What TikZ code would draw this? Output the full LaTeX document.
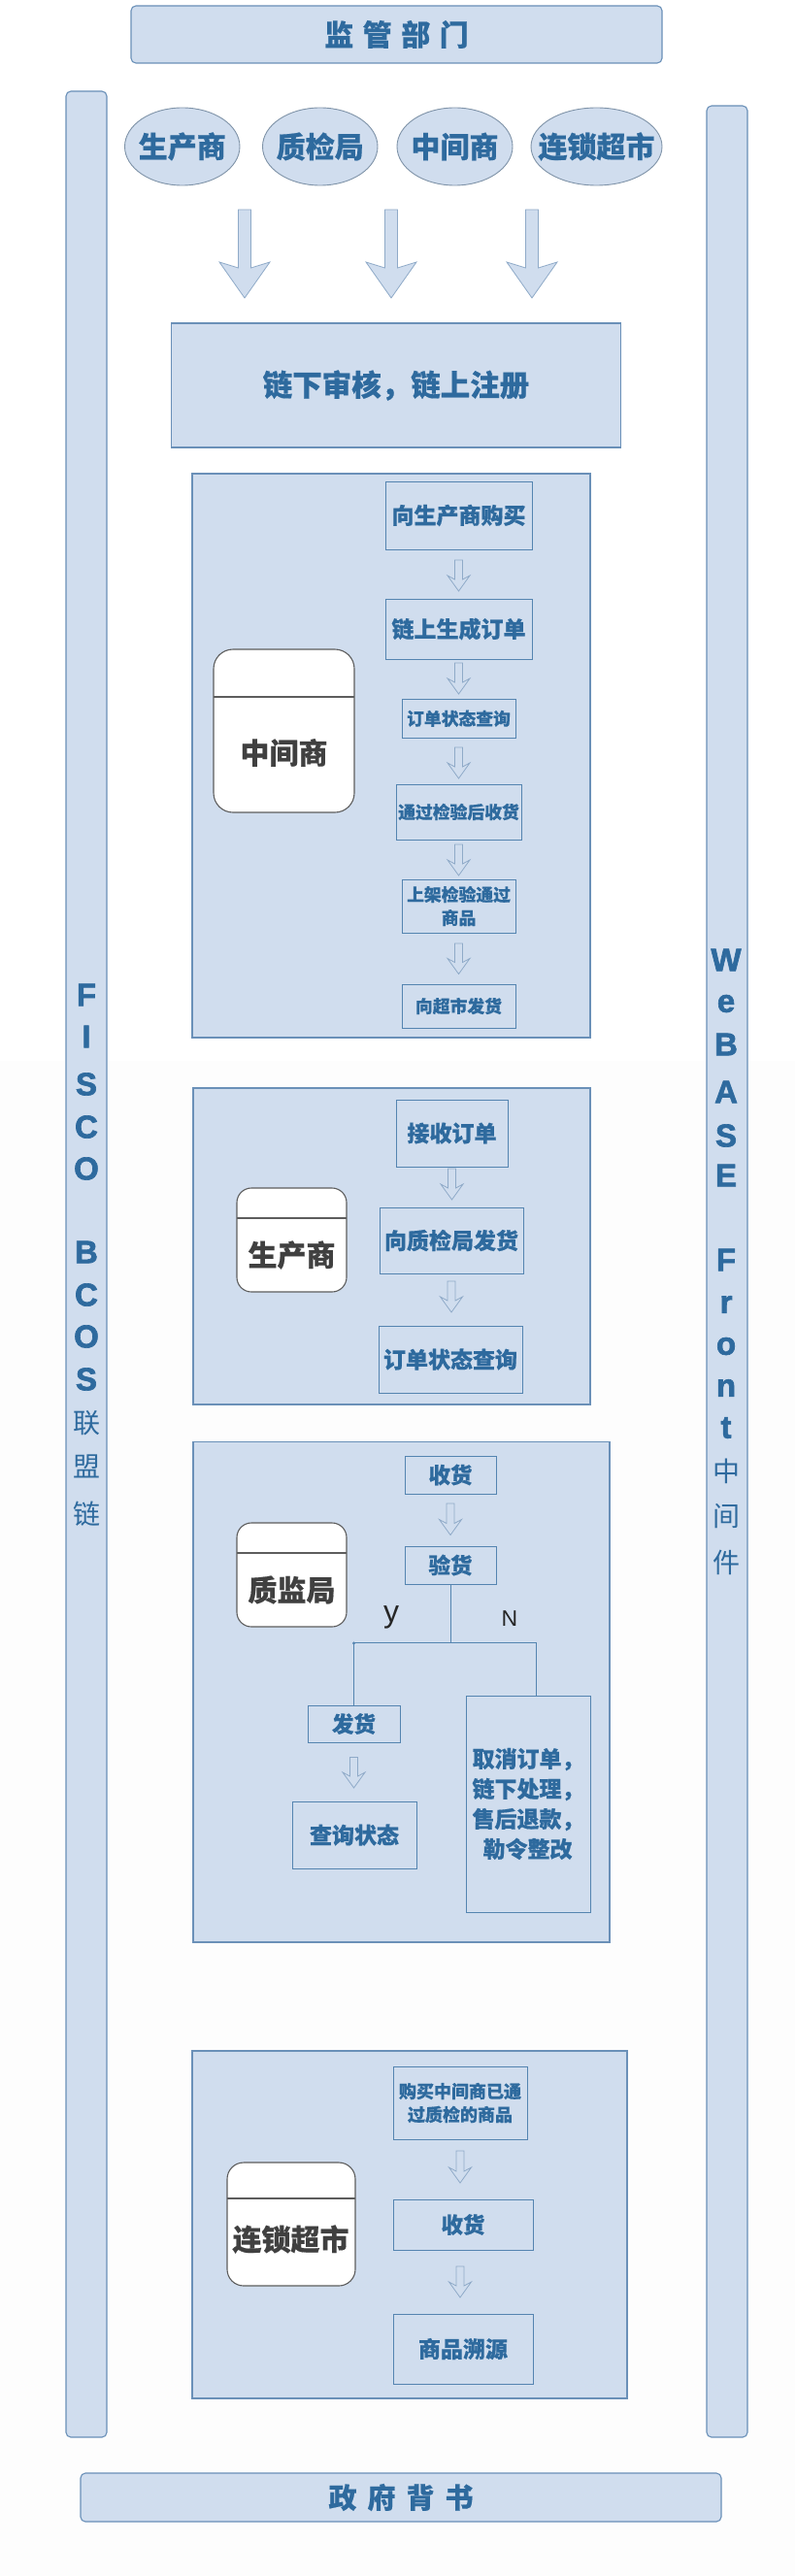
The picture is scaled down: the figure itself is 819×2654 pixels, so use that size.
\documentclass[tikz,border=0pt]{standalone}
\usepackage{fontspec}
\setmainfont{Liberation Sans}
\newfontfamily\cjk{Noto Sans CJK SC}[BoldFeatures={FakeBold=0.5}]
\newfontfamily\heavy{Liberation Sans}[BoldFeatures={FakeBold=2}]
\usetikzlibrary{calc,shapes.geometric}
\definecolor{panelfill}{HTML}{D0DDEE}
\definecolor{panelline}{HTML}{6A90B8}
\definecolor{boxline}{HTML}{5484B0}
\definecolor{inktext}{HTML}{2E6A9E}
\definecolor{darktext}{HTML}{404040}
\definecolor{arrowline}{HTML}{8FAAC8}
\definecolor{ovalline}{HTML}{7F93A8}
\definecolor{paperoff}{HTML}{FDFDFD}
\tikzset{
  panelbox/.style={draw=panelline,line width=1.1pt,fill=panelfill,inner sep=0pt,outer sep=0pt},
  roundbox/.style={panelbox,rounded corners=5pt},
  flowstep/.style={draw=boxline,line width=1pt,fill=panelfill,inner sep=0pt,outer sep=0pt,text=inktext,align=center},
  ovalbox/.style={ellipse,draw=ovalline,line width=.9pt,fill=panelfill,inner sep=0pt,outer sep=0pt},
  ovaltext/.style={text=inktext,inner sep=0pt,font=\cjk\bfseries\fontsize{30}{36}\selectfont},
  actorshape/.style={draw=darktext!85,line width=1.1pt,fill=white,inner sep=0pt,outer sep=0pt},
  actorlabel/.style={text=darktext,inner sep=0pt,font=\cjk\bfseries\fontsize{30}{36}\selectfont},
  blockarrow/.style={draw=arrowline,line width=.8pt,fill=panelfill,line join=miter},
  treeline/.style={draw=boxline,line width=1pt},
  barletter/.style={text=inktext,inner sep=0pt,font=\heavy\bfseries\fontsize{33}{36}\selectfont},
  barcjk/.style={text=inktext,inner sep=0pt,font=\cjk\fontsize{28}{32}\selectfont},
}
% #1 style  #2 name  #3-#6 x1,y1,x2,y2  #7 text
\newcommand\boxat[7]{\node[#1,minimum width={(#5-#3)*1pt},minimum height={(#6-#4)*1pt}] (#2) at ({(#3+#5)/2},{(#4+#6)/2}) {#7};}
% #1 font size  rest as above
\newcommand\flowbox[7][23]{\boxat{flowstep,font=\cjk\bfseries\fontsize{#1}{24}\selectfont}{#2}{#3}{#4}{#5}{#6}{#7}}
% #1 from  #2 to  #3 half shaft  #4 half wing  #5 wing depth  #6 notch depth
\newcommand\blockdown[6]{\draw[blockarrow] let \p1=(#1),\p2=(#2) in
  ({\x1-#3pt},\y1) -- ({\x1+#3pt},\y1) -- ({\x1+#3pt},{\y2+#6pt}) -- ({\x1+#4pt},{\y2+#5pt}) -- (\x1,\y2)
  -- ({\x1-#4pt},{\y2+#5pt}) -- ({\x1-#3pt},{\y2+#6pt}) -- cycle;}
\newcommand\smalldown[2]{\blockdown{#1}{#2}{4}{11.5}{16}{12}}
% #1 name #2-#5 box #6 radius #7 divider y
\newcommand\actorbox[7]{\boxat{actorshape,rounded corners=#6pt}{#1}{#2}{#3}{#4}{#5}{}
  \coordinate (#1-l) at (#2,#7); \coordinate (#1-r) at (#4,#7);
  \draw[actorshape] (#1-l) -- (#1-r);}
\begin{document}
\begin{tikzpicture}[x=1pt,y=-1pt]
\useasboundingbox (0,0) rectangle (819,2654);
\fill[white] (0,0) rectangle (819,2654);
\fill[paperoff] (0,1093) rectangle (819,2654);
% side bars
\boxat{roundbox}{leftbar}{68}{94}{110}{2511}{}
\boxat{roundbox}{rightbar}{728}{109}{770}{2511}{}
\foreach \t/\v [count=\i] in {F/1025,I/1068,S/1117,C/1161,O/1204,B/1290,C/1334,O/1377,S/1421}
  \node[barletter] (fl\i) at (89,\v) {\t};
\foreach \t/\v [count=\i] in {联/1466,盟/1511,链/1560}
  \node[barcjk] (fc\i) at (89,\v) {\t};
\foreach \t/\v [count=\i] in {W/989,e/1034,B/1076,A/1125,S/1170,E/1211,F/1298,r/1344,o/1387,n/1430,t/1471}
  \node[barletter] (wl\i) at (748,\v) {\t};
\foreach \t/\v [count=\i] in {中/1516,间/1562,件/1610}
  \node[barcjk] (wc\i) at (748,\v) {\t};
% top
\boxat{roundbox,text=inktext,font=\cjk\bfseries\fontsize{30}{36}\selectfont}{top}{135}{6}{682}{65}{监\hspace{9.5pt}管\hspace{9.5pt}部\hspace{9.5pt}门}
\boxat{ovalbox}{o1}{128.5}{111}{247}{191}{}
\boxat{ovalbox}{o2}{270.5}{111}{389}{191}{}
\boxat{ovalbox}{o3}{409}{111}{528}{191}{}
\boxat{ovalbox}{o4}{547}{111}{682}{191}{}
\node[ovaltext] (o1t) at (o1) {生产商};
\node[ovaltext] (o2t) at (o2) {质检局};
\node[ovaltext] (o3t) at (o3) {中间商};
\node[ovaltext] (o4t) at (o4) {连锁超市};
\boxat{panelbox,text=inktext,font=\cjk\bfseries\fontsize{30.5}{36}\selectfont}{reg}{176.5}{333}{639.5}{461}{链下审核，链上注册}
\coordinate (a1) at (252,216); \coordinate (a2) at (403,216); \coordinate (a3) at (548,216);
\coordinate (t1) at (252,307); \coordinate (t2) at (403,307); \coordinate (t3) at (548,307);
\blockdown{a1}{t1}{6.5}{26}{37}{31}
\blockdown{a2}{t2}{6.5}{26}{37}{31}
\blockdown{a3}{t3}{6.5}{26}{37}{31}
% panel 1
\boxat{panelbox}{p1}{198}{488}{608}{1069}{}
\actorbox{ac1}{220}{669}{365}{837}{20}{718}
\node[actorlabel] (ac1t) at (292.5,775.5) {中间商};
\flowbox{m1}{397}{496}{548}{566}{向生产商购买}
\flowbox{m2}{397}{617}{548}{679}{链上生成订单}
\flowbox[17.8]{m3}{414}{720}{531}{760.5}{订单状态查询}
\flowbox[17.8]{m4}{408}{808}{537}{865}{通过检验后收货}
\flowbox[17.8]{m5}{414}{906}{531}{961}{上架检验通过\\商品}
\flowbox[17.8]{m6}{414}{1014}{531}{1059}{向超市发货}
\smalldown{[yshift=-11pt]m1.south}{[yshift=8pt]m2.north}
\smalldown{[yshift=-4pt]m2.south}{[yshift=5pt]m3.north}
\smalldown{[yshift=-9.5pt]m3.south}{[yshift=6pt]m4.north}
\smalldown{[yshift=-5pt]m4.south}{[yshift=4pt]m5.north}
\smalldown{[yshift=-11pt]m5.south}{[yshift=10.5pt]m6.north}
% panel 2
\boxat{panelbox}{p2}{199}{1121}{608}{1447}{}
\actorbox{ac2}{244}{1224}{357}{1331}{15}{1255}
\node[actorlabel] (ac2t) at (300.5,1293) {生产商};
\flowbox{s1}{408}{1133}{523}{1202}{接收订单}
\flowbox{s2}{391}{1244}{539}{1312}{向质检局发货}
\flowbox{s3}{390}{1366}{538}{1435}{订单状态查询}
\smalldown{[yshift=-2pt]s1.south}{[yshift=8pt]s2.north}
\smalldown{[yshift=-8pt]s2.south}{[yshift=14pt]s3.north}
% panel 3
\boxat{panelbox}{p3}{199}{1485.5}{628}{2001}{}
\actorbox{ac3}{244}{1569}{357}{1676}{15}{1600}
\node[actorlabel] (ac3t) at (300.5,1638) {质监局};
\flowbox[22.5]{q1}{417}{1500}{511}{1539}{收货}
\flowbox[22.5]{q2}{417}{1593}{511}{1632}{验货}
\flowbox[22.5]{q3}{317}{1757}{412}{1795}{发货}
\flowbox{q4}{301}{1856}{429}{1925}{查询状态}
\boxat{flowstep,align=left,font=\cjk\bfseries\fontsize{23}{31}\selectfont}{q5}{480}{1747}{608}{1970}{取消订单，\\链下处理，\\售后退款，\\\hspace{11pt}勒令整改}
\smalldown{[yshift=-10pt]q1.south}{[yshift=11.5pt]q2.north}
\smalldown{[yshift=-15.5pt]q3.south}{[yshift=14pt]q4.north}
\coordinate (qbranch) at (464,1692);
\coordinate (qright) at ([xshift=8pt]q5.north);
\draw[treeline] (q2.south) -- (qbranch);
\draw[treeline] (qbranch) -| (q3.north);
\draw[treeline] (qbranch) -| (qright);
\fill[boxline] (364.5,1693) circle (1.6pt);
\node[text=black!85,inner sep=0pt,font=\fontsize{32}{36}\selectfont] (ylabel) at (403,1666) {y};
\node[text=black!85,inner sep=0pt,font=\fontsize{23}{26}\selectfont] (nlabel) at (525,1668) {N};
% panel 4
\boxat{panelbox}{p4}{198}{2113}{646}{2471}{}
\actorbox{ac4}{234}{2228}{366}{2355}{17}{2265}
\node[actorlabel] (ac4t) at (299.5,2307) {连锁超市};
\flowbox[18]{c1}{405}{2129}{543}{2204}{购买中间商已通\\过质检的商品}
\flowbox[22.5]{c2}{405}{2266}{549}{2318}{收货}
\flowbox{c3}{405}{2384}{549}{2456}{商品溯源}
\smalldown{[yshift=-12pt]c1.south}{[yshift=17pt]c2.north}
\smalldown{[xshift=-3pt,yshift=-17pt]c2.south}{[yshift=17pt]c3.north}
% bottom
\boxat{roundbox,text=inktext,font=\cjk\bfseries\fontsize{29}{35}\selectfont}{bot}{83}{2548}{743}{2598}{政\hspace{11pt}府\hspace{11pt}背\hspace{11pt}书}
\end{tikzpicture}
\end{document}
